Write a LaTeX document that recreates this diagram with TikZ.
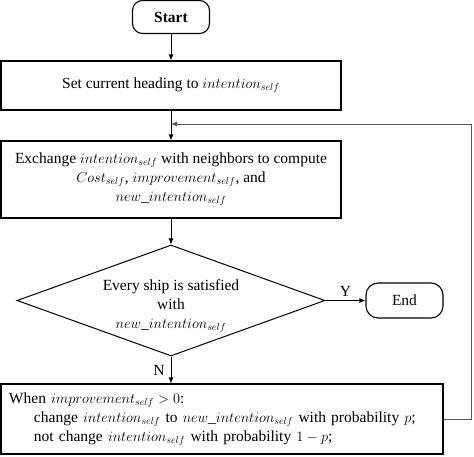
\documentclass[tikz,border=0pt]{standalone}
\usepackage{fontspec}
\setmainfont{Liberation Serif}
\DeclareMathSizes{15.5}{14}{10}{8}
\usetikzlibrary{shapes.geometric,arrows.meta}
\begin{document}
\fontsize{15.5}{19}\selectfont
\begin{tikzpicture}[x=1pt,y=-1pt,
  font=\fontsize{15.5}{19}\selectfont,
  box/.style={draw, line width=1.2pt, rectangle, inner sep=0pt},
  term/.style={draw, line width=1.1pt, rectangle, rounded corners=10pt, inner sep=0pt},
  dec/.style={draw, line width=1pt, diamond, inner sep=0pt, align=center},
  conn/.style={line width=0.8pt, -{Latex[length=6pt,width=5pt]}},
  line/.style={line width=0.9pt, draw=black!65}]
\useasboundingbox (0,0) rectangle (474,457);
\node[term, minimum width=77pt, minimum height=33pt, font=\fontsize{15.5}{19}\selectfont\bfseries] (start) at (171,17) {Start};
\node[box, minimum width=340pt, minimum height=49pt] (b1) at (171,85.5) {Set current heading to $intention_{self}$};
\node[box, minimum width=340pt, minimum height=77pt, align=center] (b2) at (171,179.5)
  {Exchange $intention_{self}$ with neighbors to compute\\ $Cost_{self}$, $improvement_{self}$, and\\ $new\_intention_{self}$};
\node[dec, minimum width=308pt, minimum height=111pt] (d) at (171,300.5) {};
\node[align=center, inner sep=0pt] (dt) at (171,306) {Every ship is satisfied\\ with\\ $new\_intention_{self}$};
\node[term, rounded corners=12pt, minimum width=77pt, minimum height=35pt] (end) at (404.5,300.5) {End};
\node[box, minimum width=441pt, minimum height=70pt, text width=426pt, inner xsep=8pt, align=left] (b3) at (222,419)
  {When $improvement_{self} > 0$:\\
   \hspace*{25pt}change $intention_{self}$ to $new\_intention_{self}$ with probability $p$;\\
   \hspace*{25pt}not change $intention_{self}$ with probability $1-p$;};
\coordinate (j) at (171,124);
\coordinate (r1) at (471.5,419);
\coordinate (r2) at (471.5,124);
\draw[conn] (start.south) -- (b1.north);
\draw[conn] (b1.south) -- (b2.north);
\draw[conn] (b2.south) -- (d.north);
\draw[conn] (d.east) -- node[above=4pt, inner sep=0pt] (y) {Y} (end.west);
\draw[conn] (d.south) -- node[left=6pt, inner sep=0pt] (n) {N} (d.south |- b3.north);
\draw[line] (b3.east |- r1) -- (r1) -- (r2);
\draw[conn, draw=black!65] (r2) -- (j);
\end{tikzpicture}
\end{document}
